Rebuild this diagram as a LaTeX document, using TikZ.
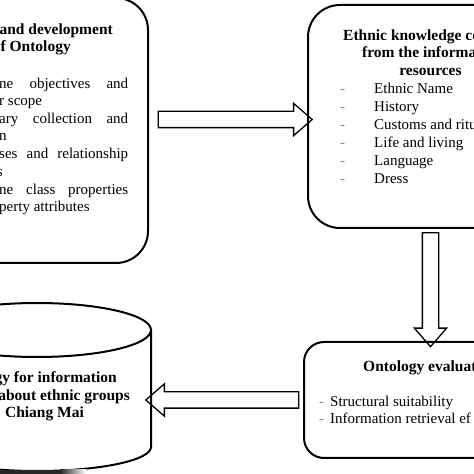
\documentclass[tikz,border=0pt]{standalone}
\usepackage{fontspec}
\setmainfont{Liberation Serif}
\usepackage{tikz}
\usetikzlibrary{positioning}
\usetikzlibrary{calc}
\usetikzlibrary{shapes.arrows}

\begin{document}
\begin{tikzpicture}[x=1pt,y=1pt,
	txt/.style={inner sep=0pt, font=\fontsize{15}{18}\selectfont},
	ttl/.style={inner sep=0pt, font=\fontsize{15.5}{18}\selectfont\bfseries},
	dashmark/.style={txt, text=black!45},
	stage/.style={draw, line width=2pt, rounded corners=#1},
	bigarrow/.style={draw, line width=1.3pt, single arrow, single arrow head extend=8pt,
		single arrow tip angle=82, single arrow head indent=0pt,
		inner xsep=0pt, inner ysep=7.5pt, minimum height=#1}]
	\useasboundingbox (0,0) rectangle (474,474);
	\clip (0,0) rectangle (474,474);

	% stages
	\node[stage=32pt, minimum width=228pt, minimum height=265pt] (design) at (34,343.5) {};
	\node[stage=32pt, minimum width=245pt, minimum height=223pt] (collect) at (430.5,357.5) {};
	\node[stage=20pt, minimum width=248pt, minimum height=116pt] (evaluate) at (428,74) {};

	% database
	\draw[line width=2pt] (37,144) ellipse [x radius=114, y radius=27];
	\draw[line width=2pt] (-77,144) -- (-77,27) arc[start angle=180, end angle=360, x radius=114, y radius=24] -- (151,144);
	\coordinate (onto) at (151,74);
	\fill[black!85] (0,0) rectangle (60,4);
	\shade[left color=black!85, right color=white] (60,0) rectangle (86,4);

	% arrows
	\coordinate (a1) at (154,354.5);
	\node[bigarrow=154pt] (arr1) at ($(a1)!.5!(collect.west |- a1)$) {};
	\node[bigarrow=114pt, rotate=270] (arr2) at ($(collect.south)!.5!(collect.south |- evaluate.north)$) {};
	\node[bigarrow=153pt, rotate=180] (arr3) at ($(evaluate.west)!.5!(onto)$) {};

	% design text
	\node[ttl, anchor=base east] (d1) at (113,439) {and development};
	\node[ttl, anchor=base east] (d2) at (71,422) {f Ontology};
	\node[txt, anchor=base west] (d3) at (-1,385) {\makebox[129pt][s]{ne objectives and}};
	\node[txt, anchor=base west] (d4) at (-1,368) {r scope};
	\node[txt, anchor=base west] (d5) at (-1,350) {\makebox[129pt][s]{ary collection and}};
	\node[txt, anchor=base west] (d6) at (-1,333) {n};
	\node[txt, anchor=base west] (d7) at (-1,315) {\makebox[129pt][s]{ses and relationship}};
	\node[txt, anchor=base east] (d8) at (3,297) {s};
	\node[txt, anchor=base west] (d9) at (-1,279) {\makebox[129pt][s]{ne class properties}};
	\node[txt, anchor=base west] (d10) at (-1,262) {perty attributes};

	% collect text
	\node[ttl, anchor=base west] (c1) at (343,433) {Ethnic knowledge co};
	\node[ttl, anchor=base west] (c2) at (362,416) {from the informa};
	\node[ttl, anchor=base] (c3) at (430.5,398) {resources};
	\foreach \name [count=\i] in {Ethnic Name, History, Customs and ritu, Life and living, Language, Dress} {
		\node[dashmark, anchor=base west] (cd\i) at (340,398-18*\i) {-};
		\node[txt, anchor=base west] (ci\i) at (374,398-18*\i) {\name};
	}

	% evaluation text
	\node[ttl, anchor=base west] (e1) at (363,102) {Ontology evaluat};
	\node[dashmark, anchor=base west] (ed1) at (319,67) {-};
	\node[txt, anchor=base west] (e2) at (330,67) {Structural suitability};
	\node[dashmark, anchor=base west] (ed2) at (319,50) {-};
	\node[txt, anchor=base west] (e3) at (330,50) {Information retrieval ef};

	% database text
	\node[ttl, anchor=base east] (o1) at (117,91) {gy for information};
	\node[ttl, anchor=base east] (o2) at (130,73) {about ethnic groups};
	\node[ttl, anchor=base] (o3) at (44.5,56) {Chiang Mai};
\end{tikzpicture}
\end{document}
